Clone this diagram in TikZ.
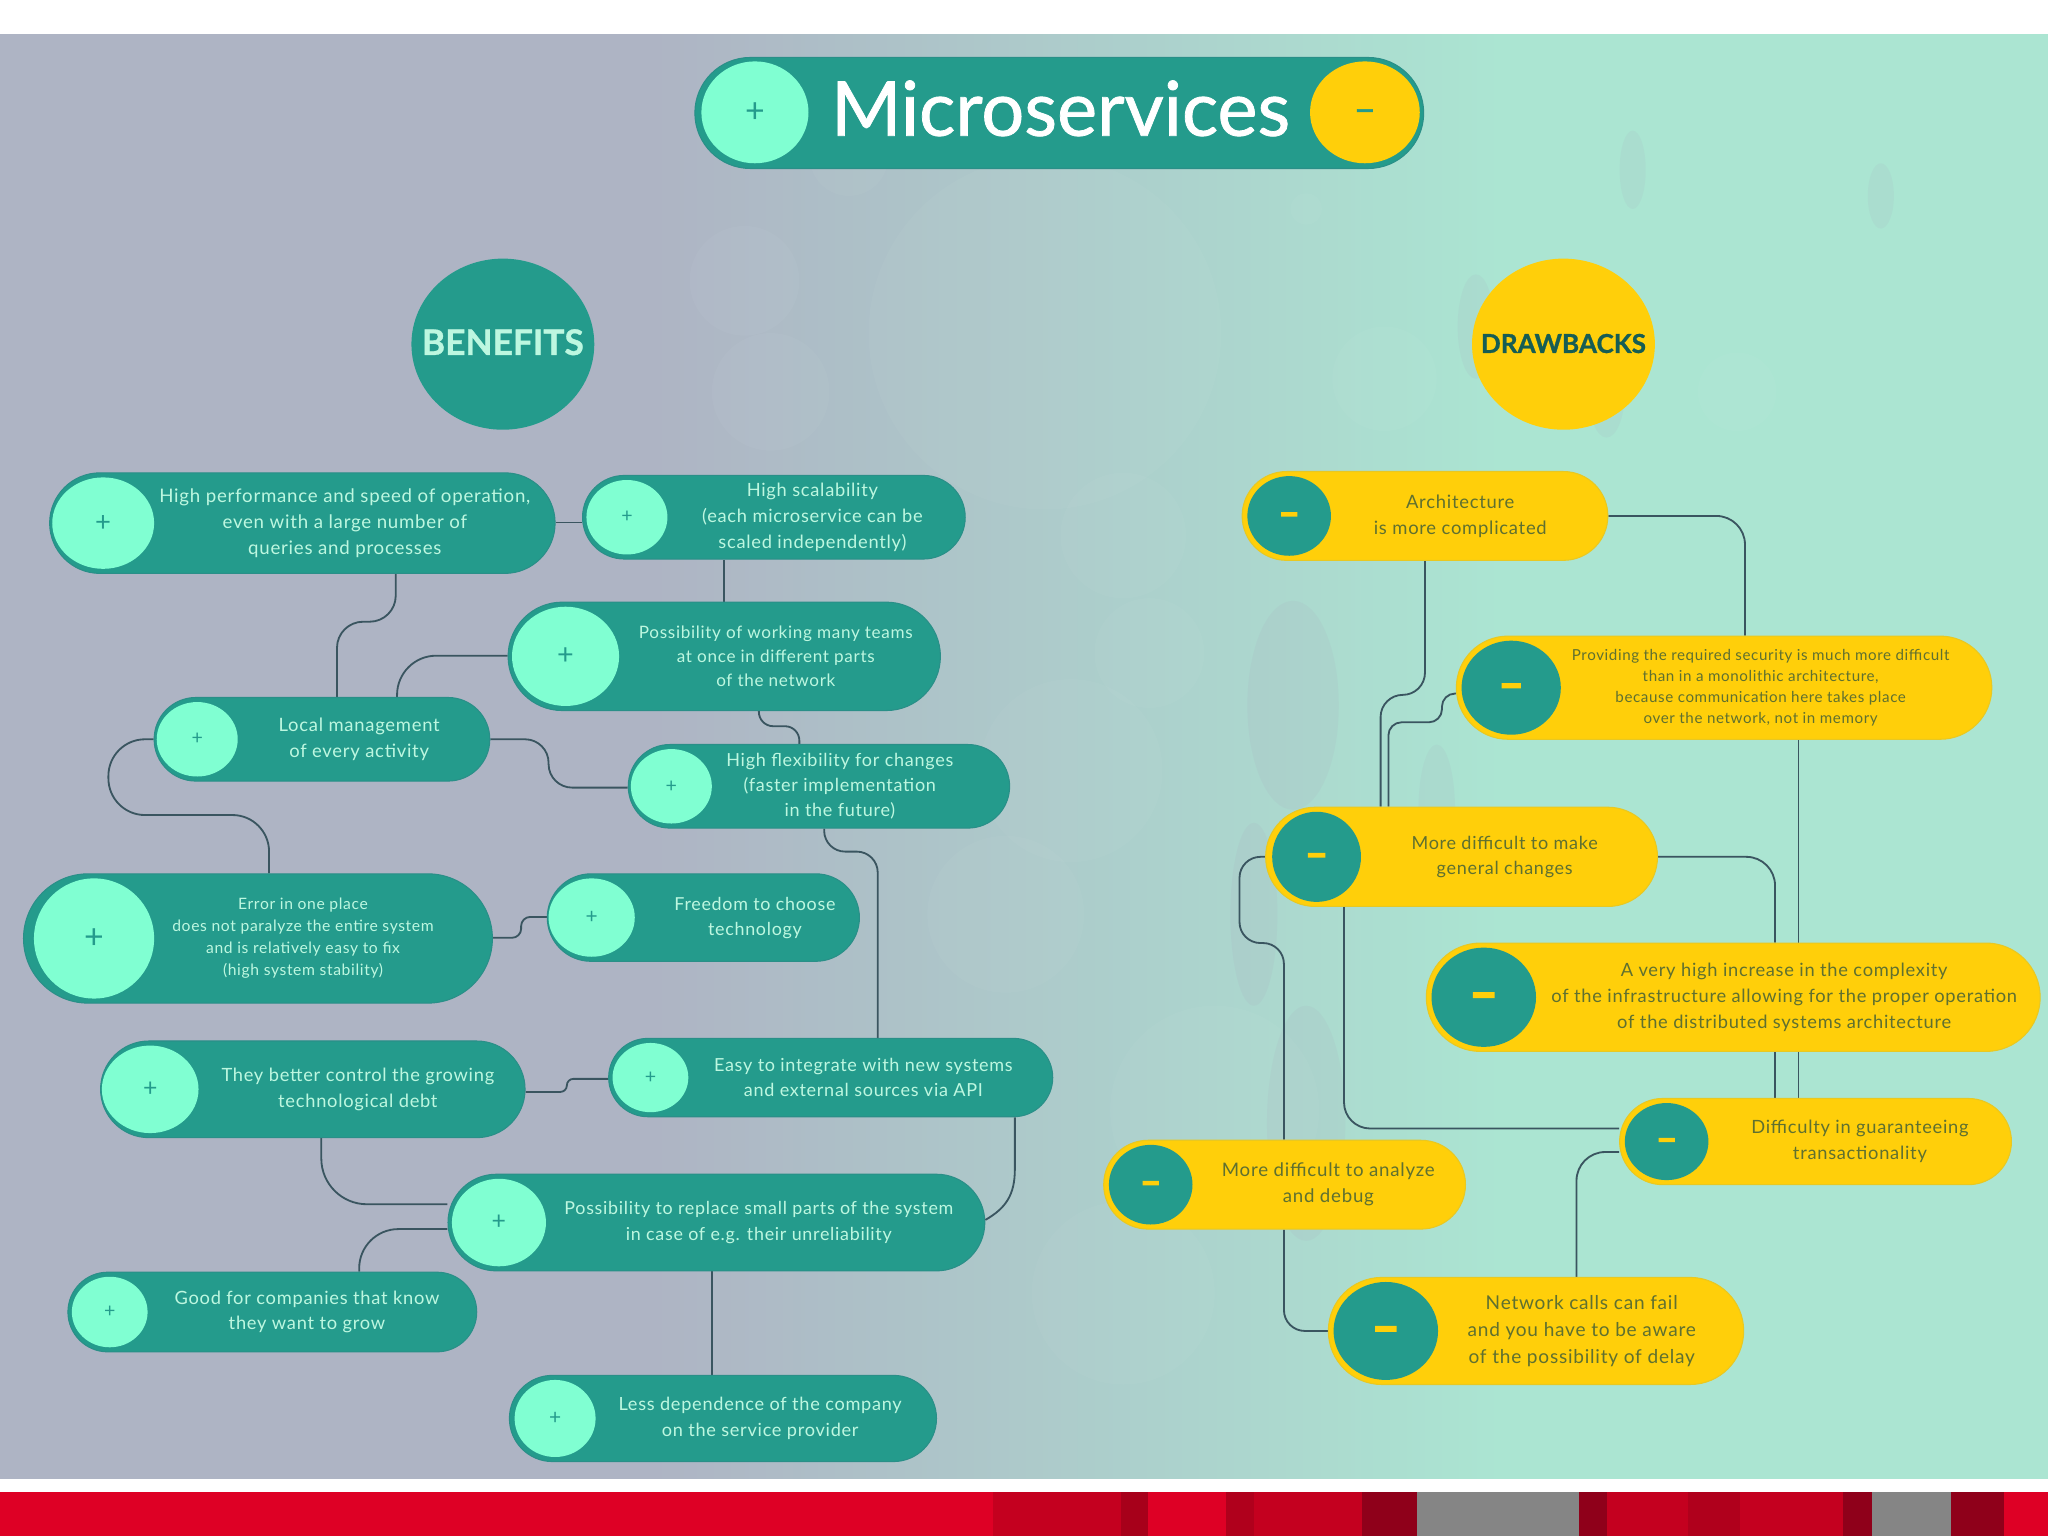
\documentclass[tikz,border=0pt]{standalone}
\usepackage{fontspec}
\setmainfont[LetterSpace=4]{Lato}
\newfontfamily\plainfont{Lato}
\newfontfamily\titlefont[FakeBold=1]{Lato}
\newfontfamily\signfont[FakeBold=6]{Lato}
\usetikzlibrary{shapes.geometric,shapes.misc,backgrounds}
\definecolor{teal1}{HTML}{249B8C}
\definecolor{teal2}{HTML}{2A8F88}
\definecolor{mint1}{HTML}{80FFD2}
\definecolor{mint2}{HTML}{BDF7E0}
\definecolor{yel1}{HTML}{FFCF0A}
\definecolor{yel2}{HTML}{E8C822}
\definecolor{olive}{HTML}{5F7030}
\definecolor{wire}{HTML}{3A5560}
\definecolor{bgl}{HTML}{AEB4C4}
\definecolor{bgr}{HTML}{ABE5D2}
\definecolor{rb}{HTML}{DE0025}
\definecolor{rm}{HTML}{C4001F}
\definecolor{rd}{HTML}{8F001A}
\definecolor{rg}{HTML}{858585}
\tikzset{
  wirepath/.style={draw=wire,line width=1.4pt,line join=round},
  bubble/.style={fill=white,opacity=.035,draw=none},
  spot/.style={fill=#1,opacity=.07,draw=none},
  gpillbody/.style={rounded rectangle,fill=teal1,draw=teal2,line width=.8pt,inner sep=0pt},
  ypillbody/.style={rounded rectangle,fill=yel1,draw=yel2,line width=.8pt,inner sep=0pt},
  gcircle/.style={ellipse,fill=mint1,inner sep=0pt,text=teal1},
  ycircle/.style={ellipse,fill=teal1,inner sep=0pt,text=yel1},
  gtext/.style={text=mint2,align=center,inner sep=0pt},
  ytext/.style={text=olive,align=center,inner sep=0pt},
}
% name x0 y0 x1 y1 cx rx tx fs text
\newcommand\pillG[6]{\pillAny{gpillbody}{gcircle}{gtext}{\fontsize{#6}{#6}\selectfont\plainfont\raisebox{-.03em}{+}}{#1}{#2}{#3}{#4}{#5}}
\newcommand\pillY[6]{\pillAny{ypillbody}{ycircle}{ytext}{\fontsize{#6}{#6}\selectfont\signfont\raisebox{-.25em}[0pt][0pt]{–}}{#1}{#2}{#3}{#4}{#5}}
\newcommand\pillAny[9]{%
  \pgfmathsetmacro\pw{#8-#6}\pgfmathsetmacro\ph{#9-#7}%
  \pgfmathsetmacro\pcx{(#8+#6)/2}\pgfmathsetmacro\pcy{(#9+#7)/2}%
  \def\pname{#5}\def\pst{#1}\def\cst{#2}\def\tst{#3}\def\psign{#4}%
  \node[\pst,minimum width=\pw pt,minimum height=\ph pt] (\pname) at (\pcx,\pcy) {};%
  \pillRest}
\newcommand\pillRest[4]{% cx rx tx {fs|text}
  \pgfmathsetmacro\cw{2*#2}\pgfmathsetmacro\chh{\ph-7}%
  \node[\cst,minimum width=\cw pt,minimum height=\chh pt] (\pname-c) at (#1,\pcy) {\psign};%
  \pillText{#3}#4}
\newcommand\pillText[3]{% tx fs text
  \pgfmathsetmacro\bl{#2*1.4}%
  \node[\tst,font=\fontsize{#2}{\bl}\selectfont] (\pname-t) at (#1,\pcy) {#3};}
\begin{document}
\begin{tikzpicture}[x=1pt,y=-1pt]
\useasboundingbox (0,0) rectangle (1568,1176);

% nodes: pills
\node[gpillbody,draw=teal2,minimum width=558pt,minimum height=85pt] (title) at (811,86.5) {};
\node[gcircle,minimum width=82pt,minimum height=78pt,font=\plainfont\fontsize{26}{26}\selectfont] (titleplus) at (578,86) {+};
\node[ellipse,fill=yel1,inner sep=0pt,minimum width=84pt,minimum height=78pt,text=teal1,font=\titlefont\fontsize{30}{30}\selectfont] (titleminus) at (1045,86) {\raisebox{-.25em}[0pt][0pt]{–}};
\node[text=white,inner sep=0pt,font=\titlefont\fontsize{58}{58}\selectfont] (titletext) at (812,83) {Microservices};
\node[ellipse,fill=teal1,inner sep=0pt,minimum width=140pt,minimum height=131pt] (benefits) at (385,263.5) {};
\node[text=mint2,inner sep=0pt,font=\titlefont\fontsize{27}{27}\selectfont\bfseries] (benefitstext) at (385,262) {BENEFITS};
\node[ellipse,fill=yel1,inner sep=0pt,minimum width=140pt,minimum height=131pt] (drawbacks) at (1197,263.5) {};
\node[text=teal1!60!black,inner sep=0pt,font=\titlefont\fontsize{20}{20}\selectfont\bfseries] (drawbackstext) at (1197,263) {DRAWBACKS};

\pillG{a}{38}{362}{425}{439}{21}{79}{39}{264}{{14.3}{High performance and speed of operation,\\even with a large number of\\queries and processes}}
\pillG{b}{446}{364}{739}{428}{15}{480}{31}{622}{{14}{High scalability\\(each microservice can be\\scaled independently)}}
\pillG{c}{389}{461}{720}{544}{22}{433}{41}{594}{{13.1}{Possibility of working many teams\\at once in different parts\\of the network}}
\pillG{d}{118}{534}{375}{598}{15}{151}{31}{275}{{14.1}{Local management\\of every activity}}
\pillG{e}{481}{570}{773}{634}{15}{514}{31}{643}{{13.8}{High flexibility for changes\\(faster implementation\\in the future)}}
\pillG{f}{18}{669}{377}{768}{26}{72}{46}{232}{{12}{Error in one place\\does not paralyze the entire system\\and is relatively easy to fix\\(high system stability)}}
\pillG{g}{419}{669}{658}{736}{16}{453}{33}{578}{{13.7}{Freedom to choose\\technology}}
\pillG{h}{77}{797}{402}{871}{19}{115}{37}{274}{{14}{They better control the growing\\technological debt}}
\pillG{i}{466}{795}{806}{855}{15}{498}{29}{661}{{13.8}{Easy to integrate with new systems\\and external sources via API}}
\pillG{j}{343}{899}{754}{973}{19}{382}{36}{581}{{13.7}{Possibility to replace small parts of the system\\in case of e.g. their unreliability}}
\pillG{k}{52}{974}{365}{1035}{15}{84}{29}{235}{{14}{Good for companies that know\\they want to grow}}
\pillG{l}{390}{1053}{717}{1119}{16}{425}{31}{582}{{13.9}{Less dependence of the company\\on the service provider}}

\pillY{arch}{951}{361}{1231}{429}{27}{987}{32}{1118}{{14.1}{Architecture\\is more complicated}}
\pillY{sec}{1115}{487}{1525}{566}{32}{1157}{38}{1348}{{11.6}{Providing the required security is much more difficult\\than in a monolithic architecture,\\because communication here takes place\\over the network, not in memory}}
\pillY{gen}{969}{618}{1269}{694}{29}{1008}{34}{1152}{{13.8}{More difficult to make\\general changes}}
\pillY{infra}{1092}{722}{1562}{805}{36}{1136}{40}{1366}{{14}{A very high increase in the complexity\\of the infrastructure allowing for the proper operation\\of the distributed systems architecture}}
\pillY{trans}{1240}{841}{1540}{907}{27}{1276}{32}{1424}{{14}{Difficulty in guaranteeing\\transactionality}}
\pillY{ana}{845}{873}{1122}{941}{27}{881}{32}{1017}{{14.3}{More difficult to analyze\\and debug}}
\pillY{net}{1017}{978}{1335}{1060}{36}{1061}{40}{1211}{{14.6}{Network calls can fail\\and you have to be aware\\of the possibility of delay}}

\begin{scope}[on background layer]
% backdrop
\fill[bgl] (0,26) rectangle (500,1132);
\shade[left color=bgl,right color=bgr] (500,20) rectangle (1150,1138);
\fill[bgr] (1150,26) rectangle (1568,1132);
\foreach \x/\y/\r in {800/255/135,570/215/42,590/300/45,860/410/48,880/500/42,820/590/70,770/700/60,930/850/80,860/990/70,650/120/30,1000/160/12,1060/290/40,1330/300/30}
  \fill[bubble] (\x,\y) circle (\r);
\foreach \x/\y/\rx/\ry in {990/540/35/80,1000/860/30/90,960/700/18/70,1130/250/14/40,1250/130/10/30,1440/150/10/25,1100/620/14/50,1230/300/14/35}
  \fill[spot=bgl!70!violet] (\x,\y) ellipse (\rx pt and \ry pt);
\fill[white] (0,0) rectangle (1568,26);
\fill[white] (0,1132) rectangle (1568,1142);
% footer
\fill[rb] (0,1142) rectangle (760,1176);
\foreach \a/\b/\c in {760/858/rm,858/879/rm!85!black,879/939/rb,939/960/rm!90!black,960/1043/rm,1043/1085/rd,1085/1209/rg,1209/1230/rd,1230/1292/rm,1292/1332/rm!90!black,1332/1411/rm,1411/1433/rd,1433/1494/rg,1494/1534/rd,1534/1568/rb}
  \fill[\c] (\a,1142) rectangle (\b,1176);
% connectors
\draw[wirepath] (a.east |- 0,400) -- (b.west |- 0,400);
\draw[wirepath,rounded corners=20pt] (a.south -| 303,0) -- (303,476) -- (258,476) -- (d.north -| 258,0);
\draw[wirepath] (b.south -| 554,0) -- (c.north -| 554,0);
\draw[wirepath,rounded corners=30pt] (c.west |- 0,502) -- (304,502) -- (d.north -| 304,0);
\draw[wirepath,rounded corners=11pt] (c.south -| 581,0) -- (581,556) -- (612,556) -- (e.north -| 612,0);
\draw[wirepath,rounded corners=18pt] (d.east |- 0,566) -- (420,566) -- (420,603) -- (e.west |- 0,603);
\draw[wirepath,rounded corners=28pt] (d.west |- 0,566) -- (83,566) -- (83,624) -- (206,624) -- (f.north -| 206,0);
\draw[wirepath,rounded corners=16pt] (e.south -| 631,0) -- (631,652) -- (672,652) -- (i.north -| 672,0);
\draw[wirepath,rounded corners=7pt] (f.east |- 0,718) -- (399,718) -- (399,702) -- (g.west |- 0,702);
\draw[wirepath,rounded corners=5pt] (h.east |- 0,836) -- (434,836) -- (434,826) -- (i.west |- 0,826);
\draw[wirepath,rounded corners=35pt] (h.south -| 246,0) -- (246,922) -- (j.west |- 0,922);
\draw[wirepath,rounded corners=30pt] (j.west |- 0,941) -- (275,941) -- (k.north -| 275,0);
\draw[wirepath] (j.east |- 0,934) .. controls (770,925) and (777,915) .. (777,895) -- (i.south -| 777,0);
\draw[wirepath] (j.south -| 545,0) -- (l.north -| 545,0);
\draw[wirepath,rounded corners=17pt] (arch.south -| 1091,0) -- (1091,532) -- (1057,532) -- (gen.north -| 1057,0);
\draw[wirepath,rounded corners=22pt] (arch.east |- 0,395) -- (1336,395) -- (sec.north -| 1336,0);
\draw[wirepath,rounded corners=10pt] (sec.west |- 0,531) -- (1104,531) -- (1104,553) -- (1063,553) -- (gen.north -| 1063,0);
\draw[wirepath] (sec.south -| 1377,0) -- (infra.north -| 1377,0);
\draw[wirepath] (infra.south -| 1377,0) -- (trans.north -| 1377,0);
\draw[wirepath,rounded corners=22pt] (gen.east |- 0,656) -- (1359,656) -- (infra.north -| 1359,0);
\draw[wirepath] (infra.south -| 1359,0) -- (trans.north -| 1359,0);
\draw[wirepath,rounded corners=20pt] (gen.south -| 1029,0) -- (1029,864) -- (trans.west |- 0,864);
\draw[wirepath,rounded corners=16pt] (gen.west |- 0,656) -- (949,656) -- (949,722) -- (983,722) -- (ana.north -| 983,0);
\draw[wirepath,rounded corners=16pt] (ana.south -| 983,0) -- (983,1019) -- (net.west |- 0,1019);
\draw[wirepath,rounded corners=22pt] (net.north -| 1207,0) -- (1207,882) -- (trans.west |- 0,882);
\end{scope}
\end{tikzpicture}
\end{document}
